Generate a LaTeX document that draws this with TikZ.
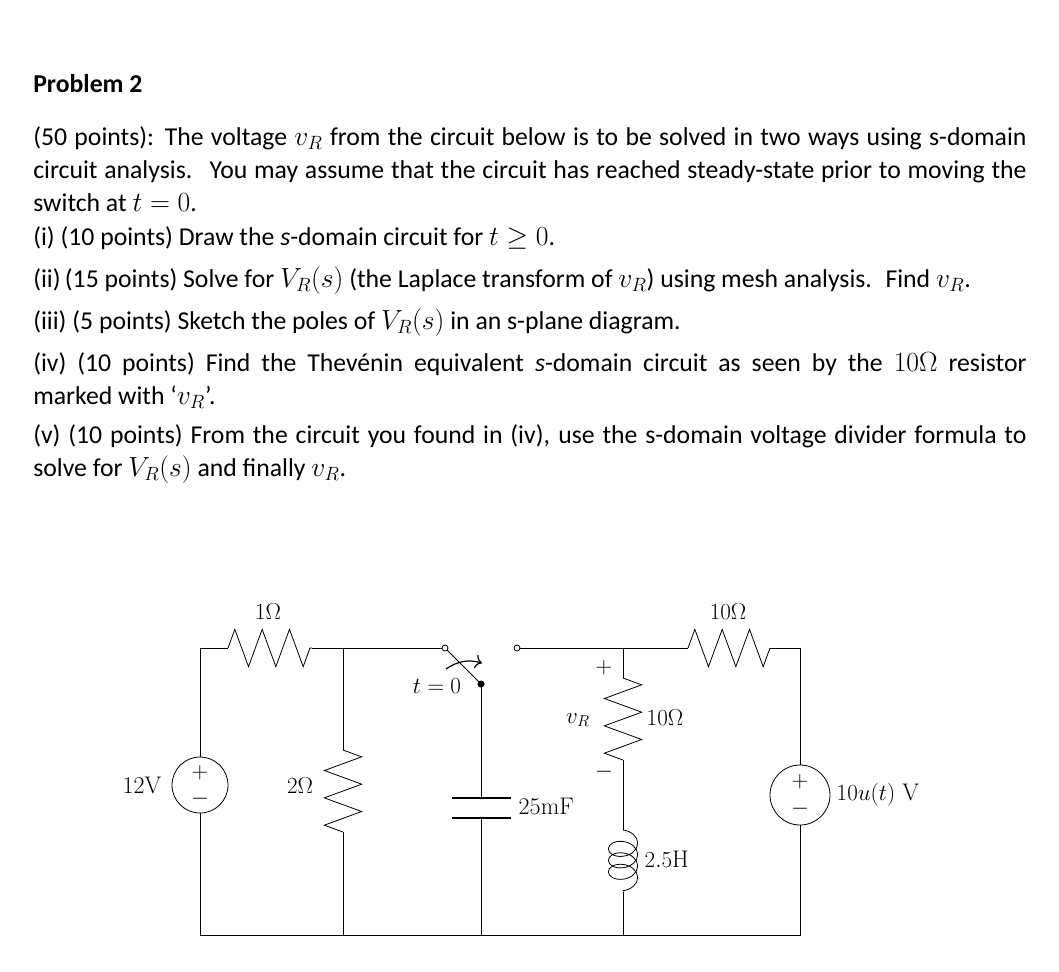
\documentclass[tikz,border=0pt]{standalone}
\usepackage{amsmath}
\usepackage{amssymb}
\usepackage{fontspec}
\setmainfont{Carlito}
\newfontfamily\lmrm{Latin Modern Roman}
\usetikzlibrary{decorations.pathmorphing,arrows.meta}

\tikzset{
  wire/.style={line width=0.6pt},
  res/.style={wire, decorate, decoration={zigzag, segment length=20.5pt, amplitude=14pt}},
  coilh/.style={wire, decorate, decoration={coil, aspect=0.7, segment length=8.6pt, amplitude=11pt}},
  lbl/.style={font=\lmrm\fontsize{18}{20}\selectfont},
  sgn/.style={font=\lmrm\fontsize{16}{18}\selectfont, inner sep=0pt},
  para/.style={anchor=base west, text width=745pt, align=justify, inner sep=0pt,
    font=\fontsize{19.3}{24.75}\selectfont},
}

\begin{document}
\begin{tikzpicture}[x=0.75pt,y=-0.75pt]
            \useasboundingbox (0,0) rectangle (1059,971);

            % problem text
            \node[para] (title) at (33,92) {\textbf{Problem 2}};
            \node[para] (intro) at (33,145) {(50 points): The voltage $v_R$ from the circuit below is to be solved in two ways using s-domain\linebreak circuit analysis. \ You may assume that the circuit has reached steady-state prior to moving the\linebreak switch at $t=0$.};
            \node[para] (q1) at (33,245) {(i) (10 points) Draw the \textit{s}-domain circuit for $t\geq 0$.};
            \node[para] (q2) at (33,287) {(ii)\,(15 points) Solve for $V_R(s)$ (the Laplace transform of $v_R$) using mesh analysis. \ Find $v_R$.};
            \node[para] (q3) at (33,329) {(iii) (5 points) Sketch the poles of $V_R(s)$ in an s-plane diagram.};
            \node[para] (q4) at (33,371) {\hangindent=11pt\hangafter=1 (iv) (10 points) Find the Thevénin equivalent \textit{s}-domain circuit as seen by the $10\Omega$ resistor\linebreak marked with `$v_R$'.};
            \node[para] (q5) at (33,443) {\hangindent=11pt\hangafter=1 (v) (10 points) From the circuit you found in (iv), use the s-domain voltage divider formula to\linebreak solve for $V_R(s)$ and finally $v_R$.};

            % wires
            \draw[wire] (200,757) -- (200,648) -- (228,648);
            \draw[res] (228,648) -- (312,648);
            \draw[wire] (312,648) -- (445,648);
            \draw[wire] (343,648) -- (343,750);
            \draw[res] (343,750) -- (343,832);
            \draw[wire] (343,832) -- (343,935);
            \draw[wire] (200,813) -- (200,935) -- (800,935) -- (800,825);
            \draw[wire] (800,765) -- (800,648) -- (770,648);
            \draw[res] (770,648) -- (688,648);
            \draw[wire] (688,648) -- (517,648);

            % switch and capacitor
            \draw[wire] (445,648) -- (481,684);
            \draw[wire, fill=white] (445,648) circle (3);
            \draw[wire, fill=white] (517,648) circle (3);
            \fill (481,684) circle (3.5);
            \draw[line width=0.9pt, -{To[length=5pt]}] (446,669) to[bend left=25] (482,663);
            \node[lbl] (tsw) at (437,686) {$t=0$};
            \draw[wire] (481,684) -- (481,798);
            \draw[line width=1.2pt] (452,798) -- (511,798);
            \draw[line width=1.2pt] (452,818) -- (511,818);
            \draw[wire] (481,818) -- (481,935);
            \node[lbl, anchor=west] (cap) at (514,807) {25mF};

            % middle branch
            \draw[wire] (623,648) -- (623,678);
            \draw[res] (623,678) -- (623,760);
            \draw[wire] (623,760) -- (623,830);
            \draw[coilh] (623,830) -- (623,892);
            \draw[wire] (623,892) -- (623,935);
            \node[lbl, anchor=west] (r3) at (642,718) {$10\Omega$};
            \node[lbl, anchor=west] (ind) at (640,859) {$2.5$H};
            \node[lbl] (vr) at (578,720) {$v_R$};
            \node[lbl] (vp) at (604,668) {$+$};
            \node[lbl] (vm) at (604,772) {$-$};

            % labels
            \node[lbl] (r1) at (268,612) {$1\Omega$};
            \node[lbl] (r2) at (300,786) {$2\Omega$};
            \node[lbl] (r4) at (728,612) {$10\Omega$};

            % sources
            \draw[wire] (200,785) circle (28);
            \node[sgn] (s1p) at (200,773) {$+$};
            \node[sgn] (s1m) at (200,799) {$-$};
            \node[lbl, anchor=east] (e1) at (166,785) {12V};
            \draw[wire] (800,795) circle (30);
            \node[sgn] (s2p) at (800,782) {$+$};
            \node[sgn] (s2m) at (800,809) {$-$};
            \node[lbl, anchor=west] (e2) at (832,795) {$10u(t)$ V};
\end{tikzpicture}
\end{document}
